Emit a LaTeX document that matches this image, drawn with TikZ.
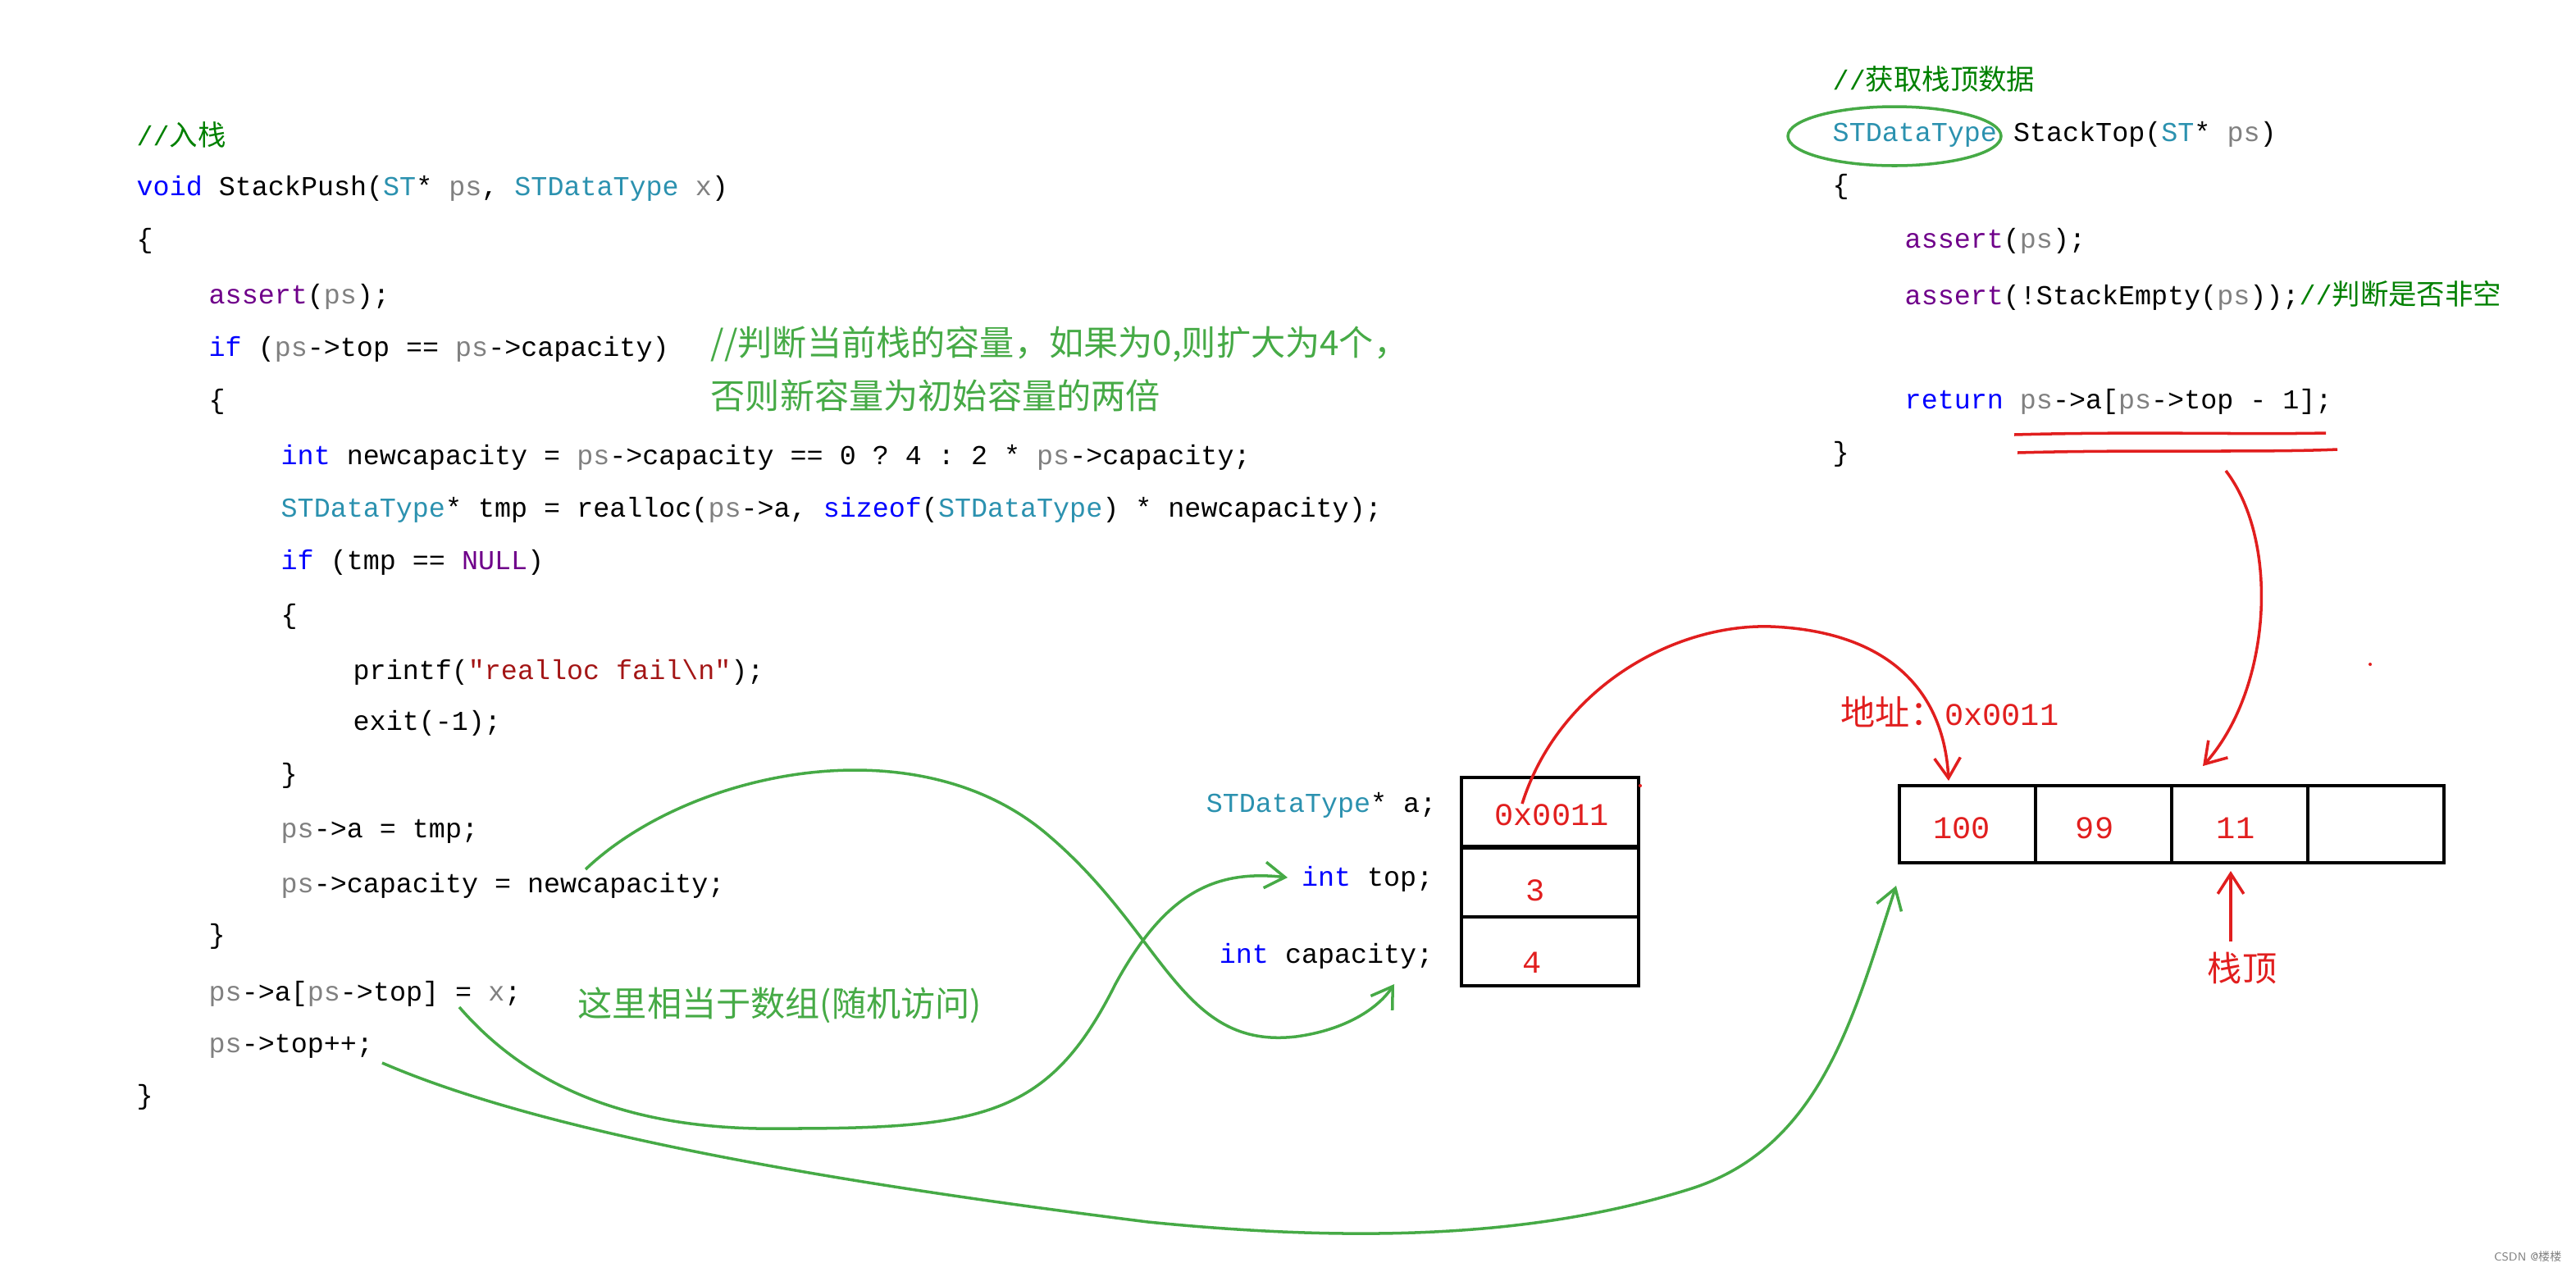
\documentclass[tikz,border=0pt]{standalone}
\usepackage{fontspec}
\setmonofont{Liberation Mono}
\newfontfamily\cjk{Noto Sans CJK SC}
\usetikzlibrary{arrows.meta,shapes.geometric}
\definecolor{kwc}{RGB}{0,0,255}
\definecolor{tyc}{RGB}{43,145,175}
\definecolor{pmc}{RGB}{128,128,128}
\definecolor{fnc}{RGB}{111,0,138}
\definecolor{cmc}{RGB}{0,128,0}
\definecolor{stc}{RGB}{163,21,21}
\definecolor{ag}{RGB}{70,170,70}
\definecolor{ar}{RGB}{225,30,30}
\newcommand\cKw[1]{\textcolor{kwc}{#1}}
\newcommand\cTy[1]{\textcolor{tyc}{#1}}
\newcommand\cPm[1]{\textcolor{pmc}{#1}}
\newcommand\cFn[1]{\textcolor{fnc}{#1}}
\newcommand\cCm[1]{\textcolor{cmc}{#1}}
\newcommand\cSs[1]{\textcolor{stc}{#1}}
\newcommand\cZh[1]{{\cjk\fontsize{9.8}{11}\selectfont #1}}
\tikzset{
 code/.style={anchor=west,inner sep=0pt,font=\ttfamily\fontsize{9.5}{11}\selectfont},
 lab/.style={anchor=east,inner sep=0pt,font=\ttfamily\fontsize{9.5}{11}\selectfont},
 val/.style={inner sep=0pt,text=ar,font=\ttfamily\fontsize{11}{13}\selectfont},
 ann/.style={anchor=west,inner sep=0pt,text=ag,font=\cjk\fontsize{12}{14}\selectfont},
 cell/.style={draw,line width=1.2pt,minimum width=1.66cm,minimum height=0.94cm,inner sep=0pt,anchor=north west},
 fcell/.style={draw,line width=1.2pt,minimum width=2.16cm,minimum height=0.84cm,inner sep=0pt,anchor=north west},
 gline/.style={draw=ag,line width=1pt},
 rline/.style={draw=ar,line width=1pt},
 tip/.style={-{Straight Barb[length=7pt,width=9pt]}}
}
\begin{document}
\begin{tikzpicture}[x=0.02cm,y=-0.02cm]
\useasboundingbox (0,0) rectangle (1570.5,775);
% left code
\node[code] (l1) at (83,82) {\cCm{//\cZh{入栈}}};
\node[code] (l2) at (83,115) {\cKw{void} StackPush(\cTy{ST}* \cPm{ps}, \cTy{STDataType} \cPm{x})};
\node[code] (l3) at (83,147) {\{};
\node[code] (l4) at (127,181) {\cFn{assert}(\cPm{ps});};
\node[code] (l5) at (127,213) {\cKw{if} (\cPm{ps}->top == \cPm{ps}->capacity)};
\node[code] (l6) at (127,245) {\{};
\node[code] (l7) at (171,279) {\cKw{int} newcapacity = \cPm{ps}->capacity == 0 ? 4 : 2 * \cPm{ps}->capacity;};
\node[code] (l8) at (171,311) {\cTy{STDataType}* tmp = realloc(\cPm{ps}->a, \cKw{sizeof}(\cTy{STDataType}) * newcapacity);};
\node[code] (l9) at (171,343) {\cKw{if} (tmp == \cFn{NULL})};
\node[code] (l10) at (171,376) {\{};
\node[code] (l11) at (215,410) {printf(\cSs{"realloc fail\textbackslash n"});};
\node[code] (l12) at (215,441) {exit(-1);};
\node[code] (l13) at (171,473) {\}};
\node[code] (l14) at (171,507) {\cPm{ps}->a = tmp;};
\node[code] (l15) at (171,540) {\cPm{ps}->capacity = newcapacity;};
\node[code] (l16) at (127,571) {\}};
\node[code] (l17) at (127,606) {\cPm{ps}->a[\cPm{ps}->top] = \cPm{x};};
\node[code] (l18) at (127,638) {\cPm{ps}->top++;};
\node[code] (l19) at (83,669) {\}};
% right code
\node[code] (r1) at (1117,48) {\cCm{//\cZh{获取栈顶数据}}};
\node[code] (r2) at (1117,82) {\cTy{STDataType} StackTop(\cTy{ST}* \cPm{ps})};
\node[code] (r3) at (1117,114) {\{};
\node[code] (r4) at (1161,147) {\cFn{assert}(\cPm{ps});};
\node[code] (r5) at (1161,180) {\cFn{assert}(!StackEmpty(\cPm{ps}));\cCm{//\cZh{判断是否非空}}};
\node[code] (r6) at (1161,245) {\cKw{return} \cPm{ps}->a[\cPm{ps}->top - 1];};
\node[code] (r7) at (1117,277) {\}};
% annotations
\node[ann] (c1) at (433,210) {//判断当前栈的容量，如果为0,则扩大为4个，};
\node[ann] (c2) at (433,241) {否则新容量为初始容量的两倍};
\node[ann] (c3) at (352,613) {这里相当于数组(随机访问)};
% struct
\node[fcell] (sa) at (890,473) {};
\node[fcell] (st) at (890,516) {};
\node[fcell] (sc) at (890,558) {};
\node[val] (va) at (946,497) {0x0011};
\node[val] (vt) at (936,543) {3};
\node[val] (vc) at (934,587) {4};
\node[lab] (la) at (876,491) {\cTy{STDataType}* a;};
\node[lab] (lt) at (874,536) {\cKw{int} top;};
\node[lab] (lc) at (874,583) {\cKw{int} capacity;};
% array
\node[cell] (a1) at (1157,478) {};
\node[cell] (a2) at (1240,478) {};
\node[cell] (a3) at (1323,478) {};
\node[cell] (a4) at (1406,478) {};
\node[val] (v1) at (1196,505) {100};
\node[val] (v2) at (1277,505) {99};
\node[val] (v3) at (1363,505) {11};
\node[val,anchor=west,font=\cjk\fontsize{12}{14}\selectfont] (addr) at (1122,434) {地址：\ttfamily\fontsize{11}{13}\selectfont 0x0011};
\node[val,font=\cjk\fontsize{12}{14}\selectfont] (top) at (1367,590) {栈顶};
\coordinate (tu) at (1360,531);
\draw[rline,tip] (top.north) ++(-7,-6) -- (tu);
% green ellipse
\node[draw=ag,line width=1pt,ellipse,minimum width=2.6cm,minimum height=0.72cm] (ell) at (1155,83) {};
% red underlines
\draw[rline] (1228,265) .. controls (1300,263) and (1370,265) .. (1418,264);
\draw[rline] (1230,276) .. controls (1300,274) and (1380,276) .. (1425,274);
% green curves
\coordinate (g1s) at (357,530);
\coordinate (g1e) at (850,600);
\draw[gline,tip] (g1s) .. controls (420,470) and (560,440) .. (640,510)
  .. controls (710,570) and (720,640) .. (790,632) .. controls (820,628) and (840,615) .. (g1e);
\coordinate (g2s) at (280,614);
\coordinate (g2e) at (785,535);
\draw[gline,tip] (g2s) .. controls (320,660) and (380,690) .. (480,688)
  .. controls (600,688) and (640,680) .. (680,600) .. controls (710,545) and (740,530) .. (g2e);
\coordinate (g3s) at (233,648);
\coordinate (g3e) at (1156,540);
\draw[gline,tip] (g3s) .. controls (330,690) and (500,720) .. (700,745)
  .. controls (850,760) and (950,750) .. (1030,725) .. controls (1110,700) and (1130,620) .. (g3e);
% red curves
\coordinate (rs) at (928,490);
\coordinate (re) at (1188,476);
\draw[rline,tip] (rs) .. controls (950,420) and (1020,380) .. (1080,382)
  .. controls (1150,385) and (1185,420) .. (re);
\coordinate (r2s) at (1357,287);
\coordinate (r2e) at (1343,467);
\draw[rline,tip] (r2s) .. controls (1390,330) and (1385,420) .. (r2e);
\fill[ar] (1000,479) circle (1);
\fill[ar] (1445,405) circle (1);
\node[anchor=east,inner sep=0pt,text=pmc,font=\sffamily\fontsize{4}{5}\selectfont] (wm) at (1562,766) {CSDN @\cjk 楼楼};
\end{tikzpicture}
\end{document}
